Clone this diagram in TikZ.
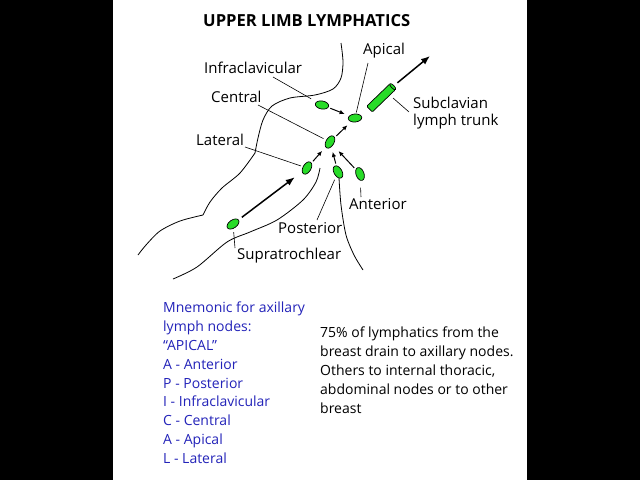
\documentclass[tikz,border=0pt]{standalone}
\usepackage{fontspec}
\setmainfont{Open Sans}
\usetikzlibrary{shapes.geometric,arrows.meta}
\definecolor{nodegreen}{RGB}{40,220,40}
\definecolor{mnemblue}{RGB}{35,35,185}
\begin{document}
\begin{tikzpicture}[x=1pt,y=-1pt,
  lymph/.style={ellipse,draw,fill=nodegreen,line width=0.7pt,minimum width=13.5pt,minimum height=8pt,inner sep=0pt},
  flow/.style={line width=1pt,-{Latex[length=5pt,width=4.5pt]},shorten <=2pt,shorten >=5pt},
  bigflow/.style={line width=1.5pt,-{Latex[length=9pt,width=7pt]}},
  leader/.style={line width=0.6pt},
  outline/.style={line width=0.8pt},
  lbl/.style={anchor=base west,inner sep=0pt,font=\fontsize{15}{16.5}\selectfont}]
% frame
\fill[black] (0,0) rectangle (640,480);
\fill[white] (113,0) rectangle (527,480);
\node[lbl,font=\bfseries\fontsize{16.6}{18}\selectfont] (title) at (203,26) {UPPER LIMB LYMPHATICS};
% body outline
\draw[outline] plot[smooth] coordinates {(341,43) (343,62) (341,78) (333,89) (315,95) (290,98) (272,106) (263,120) (258,138) (255,153)};
\draw[outline] plot[smooth] coordinates {(255,153) (240,173) (222,188) (210,202) (203,215)};
\draw[outline] plot[smooth] coordinates {(203,215) (180,221) (160,231) (146,245) (138,255)};
\draw[outline] plot[smooth] coordinates {(173,279) (197,267) (227,242) (250,232) (277,220) (303,200) (316,182) (320,168)};
\draw[outline] plot[smooth] coordinates {(339,178) (341,205) (346,235) (354,255) (363,270)};
% lymph nodes
\node[lymph,rotate=-10] (infra) at (322,105) {};
\node[lymph,rotate=5] (apical) at (355,118) {};
\node[lymph,rotate=60] (central) at (330,142) {};
\node[lymph,rotate=60] (lat) at (307,168) {};
\node[lymph,rotate=120] (post) at (338,172) {};
\node[lymph,rotate=110] (ant) at (360,174) {};
\node[lymph,rotate=35] (supra) at (233,224) {};
\node[lymph,rectangle,rounded corners=1pt,minimum width=32pt,minimum height=8pt,rotate=44] (trunk) at (381,98) {};
\draw[line width=0.7pt,fill=nodegreen,rotate around={44:(trunk.east)}] (trunk.east) ellipse (1.5 and 4);
\coordinate (trunkTip) at (430,56);
% flow
\draw[bigflow,shorten <=4pt,shorten >=9pt] (supra) -- (lat);
\draw[bigflow,shorten <=6pt] (trunk.east) -- (trunkTip);
\draw[flow] (infra) -- (apical);
\draw[flow] (central) -- (apical);
\draw[flow] (lat) -- (central);
\draw[flow] (post) -- (central);
\draw[flow,shorten >=8pt] (ant) -- (central);
% labels
\node[lbl] (apLbl) at (363,54) {Apical};
\node[lbl] (infraLbl) at (204,73) {Infraclavicular};
\node[lbl] (centralLbl) at (211,102) {Central};
\node[lbl] (latLbl) at (196,145) {Lateral};
\node[lbl,align=left,anchor=north west] (subLbl) at (413,97) {Subclavian\\lymph trunk};
\node[lbl] (antLbl) at (349,209) {Anterior};
\node[lbl] (postLbl) at (278,233) {Posterior};
\node[lbl] (supraLbl) at (237,259) {Supratrochlear};
\draw[leader,shorten >=6pt] ([shift={(69,4)}]infraLbl.base west) -- (infra);
\draw[leader,shorten >=3pt] ([shift={(47,3)}]centralLbl.base west) -- (central);
\draw[leader,shorten >=2pt] ([shift={(49,2)}]latLbl.base west) -- (lat);
\draw[leader,shorten >=1pt] ([shift={(5,9)}]apLbl.base west) -- (apical);
\draw[leader] ([shift={(-4,-1)}]subLbl.west) -- ([shift={(12,0)}]trunk.center);
\draw[leader,shorten >=7pt] ([shift={(12,-12)}]antLbl.base west) -- (ant);
\draw[leader,shorten >=3.5pt] ([shift={(39,-13)}]postLbl.base west) -- (post);
\draw[leader,shorten >=3.5pt] ([shift={(-2,-11)}]supraLbl.base west) -- (supra);
% text blocks
\node[anchor=north west,align=left,inner sep=0pt,text=mnemblue,font=\fontsize{14}{18.8}\selectfont] (mnem) at (163,302)
  {Mnemonic for axillary\\lymph nodes:\\“APICAL”\\A - Anterior\\P - Posterior\\I - Infraclavicular\\C - Central\\A - Apical\\L - Lateral};
\node[anchor=north west,align=left,inner sep=0pt,font=\fontsize{14}{19}\selectfont] (note) at (320,327)
  {75\% of lymphatics from the\\breast drain to axillary nodes.\\Others to internal thoracic,\\abdominal nodes or to other\\breast};
\end{tikzpicture}
\end{document}
